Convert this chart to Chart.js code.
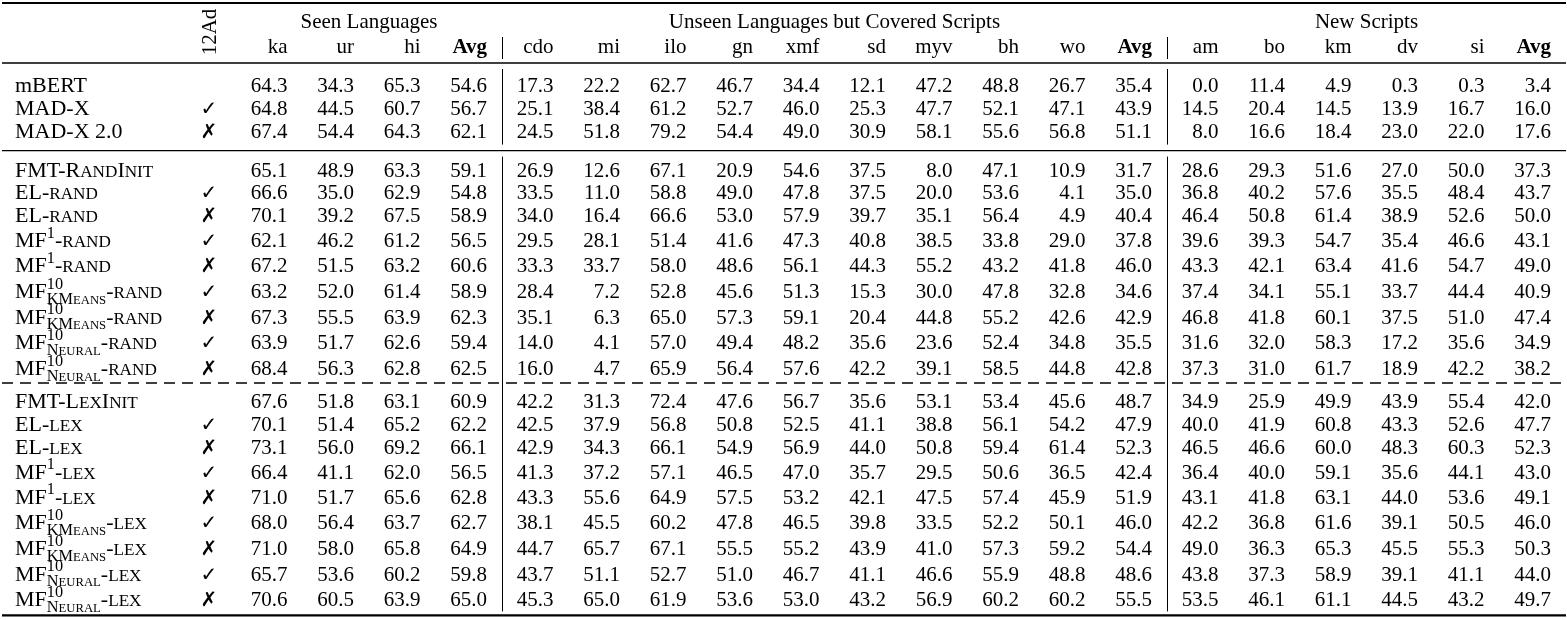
<!DOCTYPE html>
<html>
<head>
<meta charset="utf-8">
<title>Results table</title>
<script src="https://cdn.jsdelivr.net/npm/chart.js@4.4.1/dist/chart.umd.min.js"></script>
<style>
  html, body { margin: 0; padding: 0; background: #fff; }
  #wrap { width: 1567px; height: 620px; position: relative; }
</style>
</head>
<body>
<div id="wrap"><canvas id="resultsTable"></canvas></div>
<script>
// column headers
const seenLangs = ["ka", "ur", "hi", "Avg"];
const unseenLangs = ["cdo", "mi", "ilo", "gn", "xmf", "sd", "myv", "bh", "wo", "Avg"];
const newScriptLangs = ["am", "bo", "km", "dv", "si", "Avg"];
const groupTitles = ["Seen Languages", "Unseen Languages but Covered Scripts", "New Scripts"];
const adapterHeader = "12Ad";

// row labels: [..] = small caps, ^{..} superscript, _{..} subscript
const baselineMethods = ["mBERT", "MAD-X", "MAD-X 2.0"];
const baselineAdapters = ["", "✓", "✗"];
const baselineScores = [
  [64.3, 34.3, 65.3, 54.6, 17.3, 22.2, 62.7, 46.7, 34.4, 12.1, 47.2, 48.8, 26.7, 35.4, 0.0, 11.4, 4.9, 0.3, 0.3, 3.4],
  [64.8, 44.5, 60.7, 56.7, 25.1, 38.4, 61.2, 52.7, 46.0, 25.3, 47.7, 52.1, 47.1, 43.9, 14.5, 20.4, 14.5, 13.9, 16.7, 16.0],
  [67.4, 54.4, 64.3, 62.1, 24.5, 51.8, 79.2, 54.4, 49.0, 30.9, 58.1, 55.6, 56.8, 51.1, 8.0, 16.6, 18.4, 23.0, 22.0, 17.6]
];

const randMethods = ["FMT-R[and]I[nit]", "EL-[rand]", "EL-[rand]", "MF^{1}-[rand]", "MF^{1}-[rand]",
  "MF^{10}_{[KMeans]}-[rand]", "MF^{10}_{[KMeans]}-[rand]", "MF^{10}_{[Neural]}-[rand]", "MF^{10}_{[Neural]}-[rand]"];
const randAdapters = ["", "✓", "✗", "✓", "✗", "✓", "✗", "✓", "✗"];
const randScores = [
  [65.1, 48.9, 63.3, 59.1, 26.9, 12.6, 67.1, 20.9, 54.6, 37.5, 8.0, 47.1, 10.9, 31.7, 28.6, 29.3, 51.6, 27.0, 50.0, 37.3],
  [66.6, 35.0, 62.9, 54.8, 33.5, 11.0, 58.8, 49.0, 47.8, 37.5, 20.0, 53.6, 4.1, 35.0, 36.8, 40.2, 57.6, 35.5, 48.4, 43.7],
  [70.1, 39.2, 67.5, 58.9, 34.0, 16.4, 66.6, 53.0, 57.9, 39.7, 35.1, 56.4, 4.9, 40.4, 46.4, 50.8, 61.4, 38.9, 52.6, 50.0],
  [62.1, 46.2, 61.2, 56.5, 29.5, 28.1, 51.4, 41.6, 47.3, 40.8, 38.5, 33.8, 29.0, 37.8, 39.6, 39.3, 54.7, 35.4, 46.6, 43.1],
  [67.2, 51.5, 63.2, 60.6, 33.3, 33.7, 58.0, 48.6, 56.1, 44.3, 55.2, 43.2, 41.8, 46.0, 43.3, 42.1, 63.4, 41.6, 54.7, 49.0],
  [63.2, 52.0, 61.4, 58.9, 28.4, 7.2, 52.8, 45.6, 51.3, 15.3, 30.0, 47.8, 32.8, 34.6, 37.4, 34.1, 55.1, 33.7, 44.4, 40.9],
  [67.3, 55.5, 63.9, 62.3, 35.1, 6.3, 65.0, 57.3, 59.1, 20.4, 44.8, 55.2, 42.6, 42.9, 46.8, 41.8, 60.1, 37.5, 51.0, 47.4],
  [63.9, 51.7, 62.6, 59.4, 14.0, 4.1, 57.0, 49.4, 48.2, 35.6, 23.6, 52.4, 34.8, 35.5, 31.6, 32.0, 58.3, 17.2, 35.6, 34.9],
  [68.4, 56.3, 62.8, 62.5, 16.0, 4.7, 65.9, 56.4, 57.6, 42.2, 39.1, 58.5, 44.8, 42.8, 37.3, 31.0, 61.7, 18.9, 42.2, 38.2]
];

const lexMethods = ["FMT-L[ex]I[nit]", "EL-[lex]", "EL-[lex]", "MF^{1}-[lex]", "MF^{1}-[lex]",
  "MF^{10}_{[KMeans]}-[lex]", "MF^{10}_{[KMeans]}-[lex]", "MF^{10}_{[Neural]}-[lex]", "MF^{10}_{[Neural]}-[lex]"];
const lexAdapters = ["", "✓", "✗", "✓", "✗", "✓", "✗", "✓", "✗"];
const lexScores = [
  [67.6, 51.8, 63.1, 60.9, 42.2, 31.3, 72.4, 47.6, 56.7, 35.6, 53.1, 53.4, 45.6, 48.7, 34.9, 25.9, 49.9, 43.9, 55.4, 42.0],
  [70.1, 51.4, 65.2, 62.2, 42.5, 37.9, 56.8, 50.8, 52.5, 41.1, 38.8, 56.1, 54.2, 47.9, 40.0, 41.9, 60.8, 43.3, 52.6, 47.7],
  [73.1, 56.0, 69.2, 66.1, 42.9, 34.3, 66.1, 54.9, 56.9, 44.0, 50.8, 59.4, 61.4, 52.3, 46.5, 46.6, 60.0, 48.3, 60.3, 52.3],
  [66.4, 41.1, 62.0, 56.5, 41.3, 37.2, 57.1, 46.5, 47.0, 35.7, 29.5, 50.6, 36.5, 42.4, 36.4, 40.0, 59.1, 35.6, 44.1, 43.0],
  [71.0, 51.7, 65.6, 62.8, 43.3, 55.6, 64.9, 57.5, 53.2, 42.1, 47.5, 57.4, 45.9, 51.9, 43.1, 41.8, 63.1, 44.0, 53.6, 49.1],
  [68.0, 56.4, 63.7, 62.7, 38.1, 45.5, 60.2, 47.8, 46.5, 39.8, 33.5, 52.2, 50.1, 46.0, 42.2, 36.8, 61.6, 39.1, 50.5, 46.0],
  [71.0, 58.0, 65.8, 64.9, 44.7, 65.7, 67.1, 55.5, 55.2, 43.9, 41.0, 57.3, 59.2, 54.4, 49.0, 36.3, 65.3, 45.5, 55.3, 50.3],
  [65.7, 53.6, 60.2, 59.8, 43.7, 51.1, 52.7, 51.0, 46.7, 41.1, 46.6, 55.9, 48.8, 48.6, 43.8, 37.3, 58.9, 39.1, 41.1, 44.0],
  [70.6, 60.5, 63.9, 65.0, 45.3, 65.0, 61.9, 53.6, 53.0, 43.2, 56.9, 60.2, 60.2, 55.5, 53.5, 46.1, 61.1, 44.5, 43.2, 49.7]
];

// layout
const W = 1567, H = 620;
const COLW = 66.5, X0 = 236, PAD = 15;
const FONT = '"Liberation Serif", "Times New Roman", serif';
const FS = 21;        // numbers and headers
const LFS = 22;       // row labels
const SC = 0.78;      // small caps scale
const SCRIPT = 0.74;  // super/subscript scale
const colGroups = [seenLangs, unseenLangs, newScriptLangs];
const columns = colGroups.flat();
const px = v => (v - X0) / COLW;   // layout px -> x-scale units

const sections = [
  { labels: baselineMethods, adapters: baselineAdapters, scores: baselineScores, first: 22, after: 20, rule: "solid" },
  { labels: randMethods, adapters: randAdapters, scores: randScores, first: 19, after: 15, rule: "dashed" },
  { labels: lexMethods, adapters: lexAdapters, scores: lexScores, first: 18, after: 16, rule: "bottom" }
];
const PITCH = { plain: 22.8, sup: 25, subsup: 25.7 };
const rowKind = s => s.includes("_{") ? "subsup" : s.includes("^{") ? "sup" : "plain";
const HEAD_RULE = 63;

const rows = [];
const rules = [{ y: 3, kind: "top" }, { y: HEAD_RULE, kind: "solid" }];
let yCur = HEAD_RULE;
sections.forEach(sec => {
  sec.labels.forEach((lab, i) => {
    yCur += i === 0 ? sec.first : PITCH[rowKind(lab)];
    rows.push({ label: lab, adapter: sec.adapters[i], scores: sec.scores[i], y: yCur });
  });
  yCur += sec.after;
  rules.push({ y: yCur, kind: sec.rule });
});

function parseRich(s) {
  const out = [];
  let sc = false, pos = "base", buf = "";
  const flush = () => { if (buf) out.push({ t: buf, sc, pos }); buf = ""; };
  for (let i = 0; i < s.length; i++) {
    const c = s[i];
    if (c === "[") { flush(); sc = true; continue; }
    if (c === "]") { flush(); sc = false; continue; }
    if ((c === "^" || c === "_") && s[i + 1] === "{") { flush(); pos = c === "^" ? "sup" : "sub"; i++; continue; }
    if (c === "}") { flush(); pos = "base"; continue; }
    buf += c;
  }
  flush();
  return out;
}

function drawRich(ctx, str, x, base, F) {
  let cx = x, supStart = null, supEnd = null, prev = "base";
  parseRich(str).forEach(tok => {
    if (tok.pos === "sup" && prev !== "sup") supStart = cx;
    if (tok.pos === "sub" && prev === "sup") { supEnd = cx; cx = supStart; }
    if (tok.pos === "base" && prev === "sub" && supEnd !== null) { cx = Math.max(cx, supEnd); supEnd = null; }
    const size = tok.pos === "base" ? F : F * SCRIPT;
    const dy = tok.pos === "sup" ? -0.42 * F : tok.pos === "sub" ? 0.26 * F : 0;
    const runs = tok.sc ? tok.t.match(/[a-z]+|[^a-z]+/g) : [tok.t];
    runs.forEach(r => {
      const small = tok.sc && /[a-z]/.test(r);
      ctx.font = (small ? size * SC : size) + "px " + FONT;
      const txt = small ? r.toUpperCase() : r;
      ctx.fillText(txt, cx, base + dy);
      cx += ctx.measureText(txt).width;
    });
    prev = tok.pos;
  });
}

const tablePlugin = {
  id: "tableText",
  afterDraw(chart) {
    const ctx = chart.ctx;
    const xs = chart.scales.x, ys = chart.scales.y;
    const left = xs.getPixelForValue(px(2)), right = xs.getPixelForValue(columns.length);
    ctx.save();
    ctx.fillStyle = "#000";
    ctx.strokeStyle = "#000";

    // horizontal rules
    rules.forEach(r => {
      const y = ys.getPixelForValue(r.y);
      ctx.beginPath();
      ctx.lineWidth = r.kind === "top" || r.kind === "bottom" ? 2.2 : 1.3;
      ctx.setLineDash(r.kind === "dashed" ? [11, 7] : []);
      ctx.moveTo(left, y);
      ctx.lineTo(right, y);
      ctx.stroke();
    });
    ctx.setLineDash([]);

    // vertical separators between column groups
    const bottom = rules[rules.length - 1].y;
    const midRule = rules[2].y;
    const spans = [[37, HEAD_RULE - 4], [HEAD_RULE + 6, midRule - 6], [midRule + 6, bottom - 4]];
    let acc = 0;
    colGroups.slice(0, -1).forEach(g => {
      acc += g.length;
      const x = Math.round(xs.getPixelForValue(acc)) + 0.5;
      ctx.lineWidth = 1;
      spans.forEach(([a, b]) => {
        ctx.beginPath();
        ctx.moveTo(x, ys.getPixelForValue(a));
        ctx.lineTo(x, ys.getPixelForValue(b));
        ctx.stroke();
      });
    });

    // group titles
    ctx.textAlign = "center";
    ctx.font = FS + "px " + FONT;
    acc = 0;
    colGroups.forEach((g, gi) => {
      ctx.fillText(groupTitles[gi], xs.getPixelForValue(acc + g.length / 2), ys.getPixelForValue(28));
      acc += g.length;
    });

    // language headers
    ctx.textAlign = "right";
    columns.forEach((c, j) => {
      ctx.font = (c === "Avg" ? "bold " : "") + FS + "px " + FONT;
      ctx.fillText(c, xs.getPixelForValue(j + 1) - PAD, ys.getPixelForValue(53));
    });

    // rotated adapter header
    ctx.save();
    ctx.translate(xs.getPixelForValue(px(209)), ys.getPixelForValue(32));
    ctx.rotate(-Math.PI / 2);
    ctx.textAlign = "center";
    ctx.textBaseline = "middle";
    ctx.font = FS + "px " + FONT;
    ctx.fillText(adapterHeader, 0, 1);
    ctx.restore();

    // cells from dataset elements
    ctx.textAlign = "right";
    ctx.font = FS + "px " + FONT;
    chart.data.datasets.forEach((ds, i) => {
      const meta = chart.getDatasetMeta(i);
      meta.data.forEach((el, k) => {
        ctx.fillText(ds.data[k].v.toFixed(1), el.x - PAD, el.y + 7);
      });
    });

    // row labels and adapter marks
    rows.forEach(r => {
      const y = ys.getPixelForValue(r.y) + 7;
      ctx.textAlign = "left";
      drawRich(ctx, r.label, xs.getPixelForValue(px(15)), y, LFS);
      if (r.adapter) {
        ctx.textAlign = "center";
        ctx.font = "bold 20px 'DejaVu Sans'";
        ctx.fillText(r.adapter, xs.getPixelForValue(px(209)), y);
      }
    });
    ctx.restore();
  }
};

const datasets = rows.map(r => ({
  label: r.label,
  data: r.scores.map((v, j) => ({ x: j + 1, y: r.y, v: v })),
  pointRadius: 0,
  pointHoverRadius: 0,
  showLine: false
}));

new Chart(document.getElementById("resultsTable").getContext("2d"), {
  type: "scatter",
  data: { datasets: datasets },
  options: {
    responsive: true,
    maintainAspectRatio: false,
    animation: false,
    events: [],
    layout: { padding: 0 },
    plugins: { legend: { display: false }, tooltip: { enabled: false } },
    scales: {
      x: { type: "linear", display: false, min: px(0), max: px(W) },
      y: { type: "linear", display: false, min: 0, max: H, reverse: true }
    }
  },
  plugins: [tablePlugin]
});
</script>
</body>
</html>
